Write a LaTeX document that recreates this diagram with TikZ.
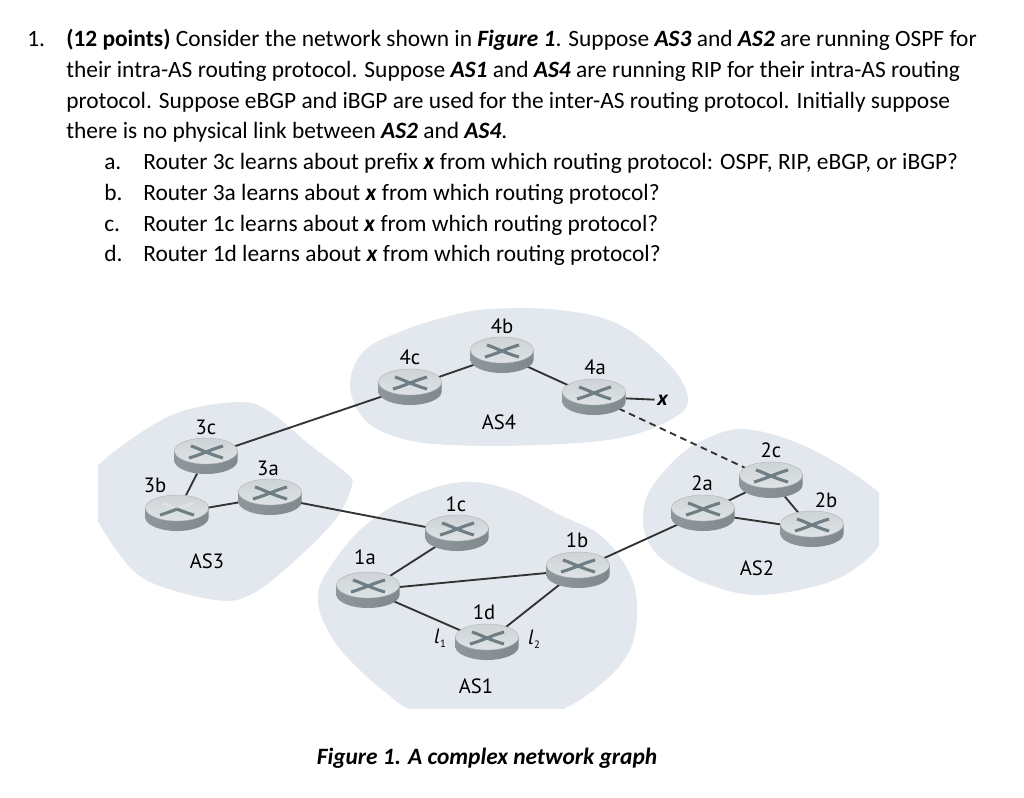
\documentclass[tikz,border=0pt]{standalone}
\usepackage{fontspec}
\setmainfont{Carlito}
\newfontfamily\labfont{PT Sans}
\usetikzlibrary{shapes.geometric}
\pgfdeclarelayer{back}
\pgfsetlayers{back,main}
\definecolor{blob}{HTML}{E2E8ED}
\definecolor{xdark}{HTML}{6F7D84}
\definecolor{xpale}{HTML}{DDE1E3}
\definecolor{wire}{HTML}{333333}
\definecolor{rimdark}{HTML}{8E989C}
\definecolor{rimlight}{HTML}{DADFE1}
\definecolor{rimend}{HTML}{7F898E}
\definecolor{topa}{HTML}{CDD3D6}
\definecolor{topb}{HTML}{DFE3E5}
\tikzset{
  x=0.75pt,y=-0.75pt,
  para/.style={anchor=base west,inner sep=0pt,font=\fontsize{17.55}{20}\selectfont},
  lab/.style={inner sep=0pt,text=black,font=\labfont\fontsize{15.5}{17}\selectfont},
  blobfill/.style={fill=blob},
  link/.style={draw=wire,line width=1.4pt},
  rtr/.style={shape=ellipse,minimum width=47.5pt,minimum height=27pt,inner sep=0pt},
  xarm/.style={line width=2.3pt,line cap=butt},
}
% router: optional colour for the upper arms of the X
\newcommand{\router}[4][xdark]{
  \begin{scope}[shift={(#3,#4)}]
    \path[left color=rimdark,middle color=rimlight,right color=rimend]
      (-31.5,-5) -- (-31.5,5) .. controls (-31.5,12) and (-17,18) .. (0,18)
      .. controls (17,18) and (31.5,12) .. (31.5,5) -- (31.5,-5) -- cycle;
    \path[top color=topa,bottom color=topb,draw=black!30,line width=0.3pt]
      (0,-5) ellipse [x radius=31.5,y radius=13];
    \draw[xarm,#1] (0,-4) .. controls (-5,-6) and (-9,-8) .. (-15,-10);
    \draw[xarm,#1] (0,-4) .. controls (5,-6) and (10,-8) .. (17,-10);
    \draw[xarm,xdark] (0,-4) .. controls (-5,-2) and (-10,0) .. (-17,2);
    \draw[xarm,xdark] (0,-4) .. controls (5,-2) and (10,0) .. (17,2);
  \end{scope}
  \node[rtr] (#2) at (#3,#4) {};
}
\newcommand{\lab}[4]{\node[lab] (#1) at (#2,#3) {#4};}
\newcommand{\para}[4]{\node[para] (#1) at (#2,#3) {#4};}
\begin{document}
\begin{tikzpicture}
\useasboundingbox (0,0) rectangle (1024,797);

% text above the figure
\para{n1}{27}{46}{1.}
\para{t1}{66}{46}{\textbf{(12 points)} Consider the network shown in \textbf{\textit{Figure 1}}. Suppose \textbf{\textit{AS3}} and \textbf{\textit{AS2}} are running OSPF for}
\para{t2}{66}{77}{their intra-AS routing protocol. Suppose \textbf{\textit{AS1}} and \textbf{\textit{AS4}} are running RIP for their intra-AS routing}
\para{t3}{66}{108}{protocol. Suppose eBGP and iBGP are used for the inter-AS routing protocol. Initially suppose}
\para{t4}{66}{138}{there is no physical link between \textbf{\textit{AS2}} and \textbf{\textit{AS4}}.}
\para{na}{104}{169}{a.}
\para{qa}{143}{169}{Router 3c learns about prefix \textbf{\textit{x}} from which routing protocol: OSPF, RIP, eBGP, or iBGP?}
\para{nb}{104}{200}{b.}
\para{qb}{143}{200}{Router 3a learns about \textbf{\textit{x}} from which routing protocol?}
\para{nc}{104}{231}{c.}
\para{qc}{143}{231}{Router 1c learns about \textbf{\textit{x}} from which routing protocol?}
\para{nd}{104}{261}{d.}
\para{qd}{143}{261}{Router 1d learns about \textbf{\textit{x}} from which routing protocol?}

% routers
\router{3c}{206}{456}
\router{3a}{270}{497}
\router[xpale]{3b}{177}{513}
\router{4c}{410}{387}
\router{4b}{502}{355}
\router{4a}{594}{397}
\router{1c}{457}{533}
\router{1a}{368}{590}
\router{1b}{578}{570}
\router{1d}{487}{642}
\router{2c}{771}{480}
\router{2a}{703}{513}
\router{2b}{812}{529}

% labels
\lab{l4b}{502}{326}{4b}
\lab{l4c}{410}{357}{4c}
\lab{l4a}{595}{367}{4a}
\lab{l3c}{206}{427}{3c}
\lab{l3a}{268}{468}{3a}
\lab{l3b}{155}{485}{3b}
\lab{l1c}{456}{504}{1c}
\lab{l1a}{365}{557}{1a}
\lab{l1b}{577}{540}{1b}
\lab{l1d}{484}{612}{1d}
\lab{l2c}{771}{450}{2c}
\lab{l2a}{702}{483}{2a}
\lab{l2b}{826}{500}{2b}
\lab{as4}{499}{422}{AS4}
\lab{as3}{207}{561}{AS3}
\lab{as1}{476}{686}{AS1}
\lab{as2}{757}{568}{AS2}
\lab{x}{663}{400}{\textit{\textbf{x}}}
\lab{i1}{440}{638}{\textit{l}\kern0.3pt\raisebox{-3pt}{\footnotesize 1}}
\lab{i2}{534}{639}{\textit{l}\kern0.3pt\raisebox{-3pt}{\footnotesize 2}}

% caption
\node[anchor=base,inner sep=0pt,font=\fontsize{17.55}{20}\selectfont\bfseries\itshape] (cap) at (487,764) {Figure 1. A complex network graph};

\begin{pgfonlayer}{back}
  % AS regions, AS3, AS1 and AS2 are cut off straight on one side
  \path[blobfill] plot[smooth cycle,tension=0.6] coordinates {(350,385) (365,350) (410,328) (450,316) (490,309) (560,310) (620,325) (670,365) (688,400) (670,420) (620,438) (540,445) (450,445) (400,438) (365,420)};
  \begin{scope}
    \clip (98,0) rectangle (1024,797);
    \path[blobfill] plot[smooth cycle,tension=0.6] coordinates {(90,475) (130,440) (180,412) (240,402) (270,412) (310,445) (345,472) (352,485) (335,520) (290,565) (250,595) (215,600) (150,582) (120,555) (90,505)};
  \end{scope}
  \begin{scope}
    \clip (0,0) rectangle (1024,708);
    \path[blobfill] plot[smooth cycle,tension=0.6] coordinates {(318,600) (325,575) (360,530) (410,497) (463,482) (510,490) (560,515) (600,535) (628,570) (637,605) (630,650) (600,685) (555,712) (500,716) (420,712) (385,692) (345,655) (325,625)};
  \end{scope}
  \begin{scope}
    \clip (0,0) rectangle (879,797);
    \path[blobfill] plot[smooth cycle,tension=0.6] coordinates {(643,520) (650,490) (680,455) (710,437) (743,429) (790,440) (840,465) (885,500) (885,535) (860,565) (820,585) (757,595) (710,585) (670,565) (650,545)};
  \end{scope}
  % links
  \draw[link] (3c) -- (4c);
  \draw[link] (3c) -- (3b);
  \draw[link] (3b) -- (3a);
  \draw[link] (3a) -- (1c);
  \draw[link] (1c) -- (1a);
  \draw[link] (1a) -- (1b);
  \draw[link] (1a) -- (1d);
  \draw[link] (1d) -- (1b);
  \draw[link] (1b) -- (2a);
  \draw[link] (2a) -- (2c);
  \draw[link] (2a) -- (2b);
  \draw[link] (2c) -- (2b);
  \draw[link] (4c) -- (4b);
  \draw[link] (4b) -- (4a);
  \draw[link,shorten >=2pt] (4a) -- (x);
  \draw[link,dash pattern=on 5pt off 3.5pt] (4a) -- (2c);
\end{pgfonlayer}
\end{tikzpicture}
\end{document}
